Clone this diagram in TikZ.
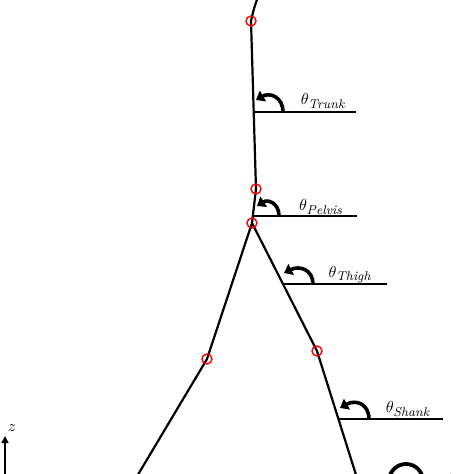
\documentclass[tikz,border=0pt]{standalone}
\usetikzlibrary{arrows.meta}
\newcommand{\biglab}[2]{\scalebox{#1}{#2}}
\newcommand{\angsub}[1]{$\theta_{\mbox{\footnotesize\itshape #1}}$}
\begin{document}
\begin{tikzpicture}[x=1pt,y=-1pt,
  seg/.style={line width=2.2pt,line cap=round},
  ref/.style={line width=1.4pt},
  joint/.style={circle,draw=red,line width=1.4pt,minimum size=10pt,inner sep=0pt,fill=none},
  rot/.style={line width=3.6pt,-{Triangle[length=8pt,width=12pt]}},
  lab/.style={inner sep=0pt}]
\useasboundingbox (0,0) rectangle (474,474);
\clip (0,0) rectangle (474,474);
% skeleton coordinates
\coordinate (top) at (258,-3);
\coordinate (neck) at (251,21);
\coordinate (pelU) at (256,189);
\coordinate (hip) at (252,223);
\coordinate (lknee) at (207,359);
\coordinate (lfoot) at (136,478);
\coordinate (rknee) at (317,351);
\coordinate (rfoot) at (357,478);
% segments
\draw[seg] (top) .. controls (254,8) .. (neck);
\draw[seg] (neck) -- (pelU);
\draw[seg] (pelU) -- (hip);
\draw[seg] (hip) -- (lknee);
\draw[seg] (lknee) -- (lfoot);
\draw[seg] (hip) -- (rknee);
\draw[seg] (rknee) -- (rfoot);
% joints
\node[joint] (jneck) at (neck) {};
\node[joint] (jpel) at (pelU) {};
\node[joint] (jhip) at (hip) {};
\node[joint] (jlk) at (lknee) {};
\node[joint] (jrk) at (rknee) {};
% reference lines
\coordinate (tA) at (254,112); \coordinate (tB) at (356,112);
\coordinate (pA) at (253,216); \coordinate (pB) at (357,216);
\coordinate (hA) at (283,284); \coordinate (hB) at (387,284);
\coordinate (sA) at (339,419); \coordinate (sB) at (443,419);
\draw[ref] (tA) -- (tB);
\draw[ref] (pA) -- (pB);
\draw[ref] (hA) -- (hB);
\draw[ref] (sA) -- (sB);
% rotation arrows
\draw[rot] (283,112) .. controls (283,97) and (270,92) .. (256,100);
\draw[rot] (279,216) .. controls (279,203) and (268,199) .. (257,206);
\draw[rot] (313,284) .. controls (313,270) and (300,265) .. (284,273);
\draw[rot] (369,419) .. controls (369,404) and (356,399) .. (340,408);
\draw[line width=3.8pt] (389,481) arc[start angle=180,end angle=360,radius=17];
% labels
\node[lab] (lt) at (323,101) {\biglab{1.6}{\angsub{Trunk}}};
\node[lab] (lp) at (321,207) {\biglab{1.6}{\angsub{Pelvis}}};
\node[lab] (lh) at (350,275) {\biglab{1.6}{\angsub{Thigh}}};
\node[lab] (ls) at (408,409) {\biglab{1.6}{\angsub{Shank}}};
\node[lab] (lb) at (449,480) {\biglab{1.6}{$\theta$}};
% z axis
\coordinate (z0) at (5,476);
\coordinate (z1) at (5,436);
\draw[line width=1.6pt,-{Triangle[length=7pt,width=7pt]}] (z0) -- (z1);
\node[lab] (zl) at (12,428) {\biglab{1.6}{$z$}};
\end{tikzpicture}
\end{document}
